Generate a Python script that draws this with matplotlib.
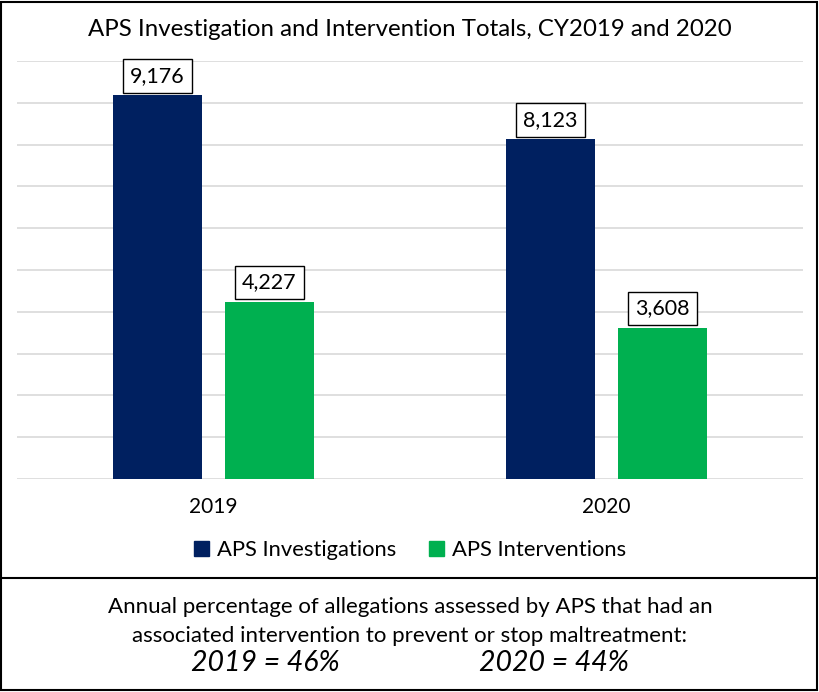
import matplotlib
matplotlib.use("Agg")
import matplotlib.pyplot as plt
from matplotlib.patches import Rectangle, Patch
from matplotlib.lines import Line2D

years = ["2019", "2020"]
investigations = [9176, 8123]
interventions = [4227, 3608]
series_names = ["APS Investigations", "APS Interventions"]
title = "APS Investigation and Intervention Totals, CY2019 and 2020"
caption_lines = ["Annual percentage of allegations assessed by APS that had an",
                 "associated intervention to prevent or stop maltreatment:"]
pct_labels = ["2019 = 46%", "2020 = 44%"]

NAVY = "#002060"
GREEN = "#00B050"
plt.rcParams['font.family'] = ['Lato', 'DejaVu Sans']

W, H = 820, 692
fig = plt.figure(figsize=(W / 100, H / 100), dpi=100)

ax = fig.add_axes([17 / W, 1 - 479 / H, 786 / W, (479 - 61) / H])
x = list(range(len(years)))
bw = 0.224
off = 0.1425
b1 = ax.bar([i - off for i in x], investigations, bw, color=NAVY, zorder=3)
b2 = ax.bar([i + off for i in x], interventions, bw, color=GREEN, zorder=3)
ax.set_xlim(-0.5, 1.5)
ax.set_ylim(0, 10000)
ax.set_yticks(range(0, 10001, 1000))
ax.yaxis.grid(True, color="#D9D9D9", lw=1.2, zorder=0)
ax.set_yticklabels([])
ax.tick_params(axis='y', length=0)
ax.set_xticks(x)
ax.set_xticklabels(years, fontsize=15)
ax.tick_params(axis='x', length=0, pad=13)
for s in ax.spines.values():
    s.set_visible(False)

for bars in (b1, b2):
    for r in bars:
        v = r.get_height()
        ax.annotate(f"{v:,}", (r.get_x() + r.get_width() / 2, v),
                    xytext=(0, 7), textcoords="offset points",
                    ha="center", va="bottom", fontsize=15.5, zorder=5,
                    bbox=dict(boxstyle="square,pad=0.32", fc="white", ec="black", lw=1))

fig.text(0.5, 1 - 30 / H, title, ha="center", va="center", fontsize=17.3)

handles = [Patch(color=NAVY), Patch(color=GREEN)]
fig.legend(handles, series_names, loc="center", bbox_to_anchor=(0.5, 1 - 550 / H),
           ncol=2, frameon=False, fontsize=15.8, handlelength=0.7, handleheight=0.7,
           handletextpad=0.35, columnspacing=1.5)

# borders
fig.patches.append(Rectangle((1.5 / W, 1 - 690 / H), 816 / W, 688 / H, transform=fig.transFigure,
                             fill=False, ec="black", lw=1.5))
fig.lines.append(Line2D([1.5 / W, 817.5 / W], [1 - 578 / H, 1 - 578 / H], transform=fig.transFigure,
                        color="black", lw=1.5))

fig.text(0.5, 1 - 607 / H, caption_lines[0], ha="center", va="center", fontsize=16)
fig.text(0.5, 1 - 636 / H, caption_lines[1], ha="center", va="center", fontsize=16)
fig.text(265 / W, 1 - 663 / H, pct_labels[0], ha="center", va="center", fontsize=20.5, style="italic")
fig.text(554 / W, 1 - 663 / H, pct_labels[1], ha="center", va="center", fontsize=20.5, style="italic")

fig.savefig("out.png", dpi=100)
